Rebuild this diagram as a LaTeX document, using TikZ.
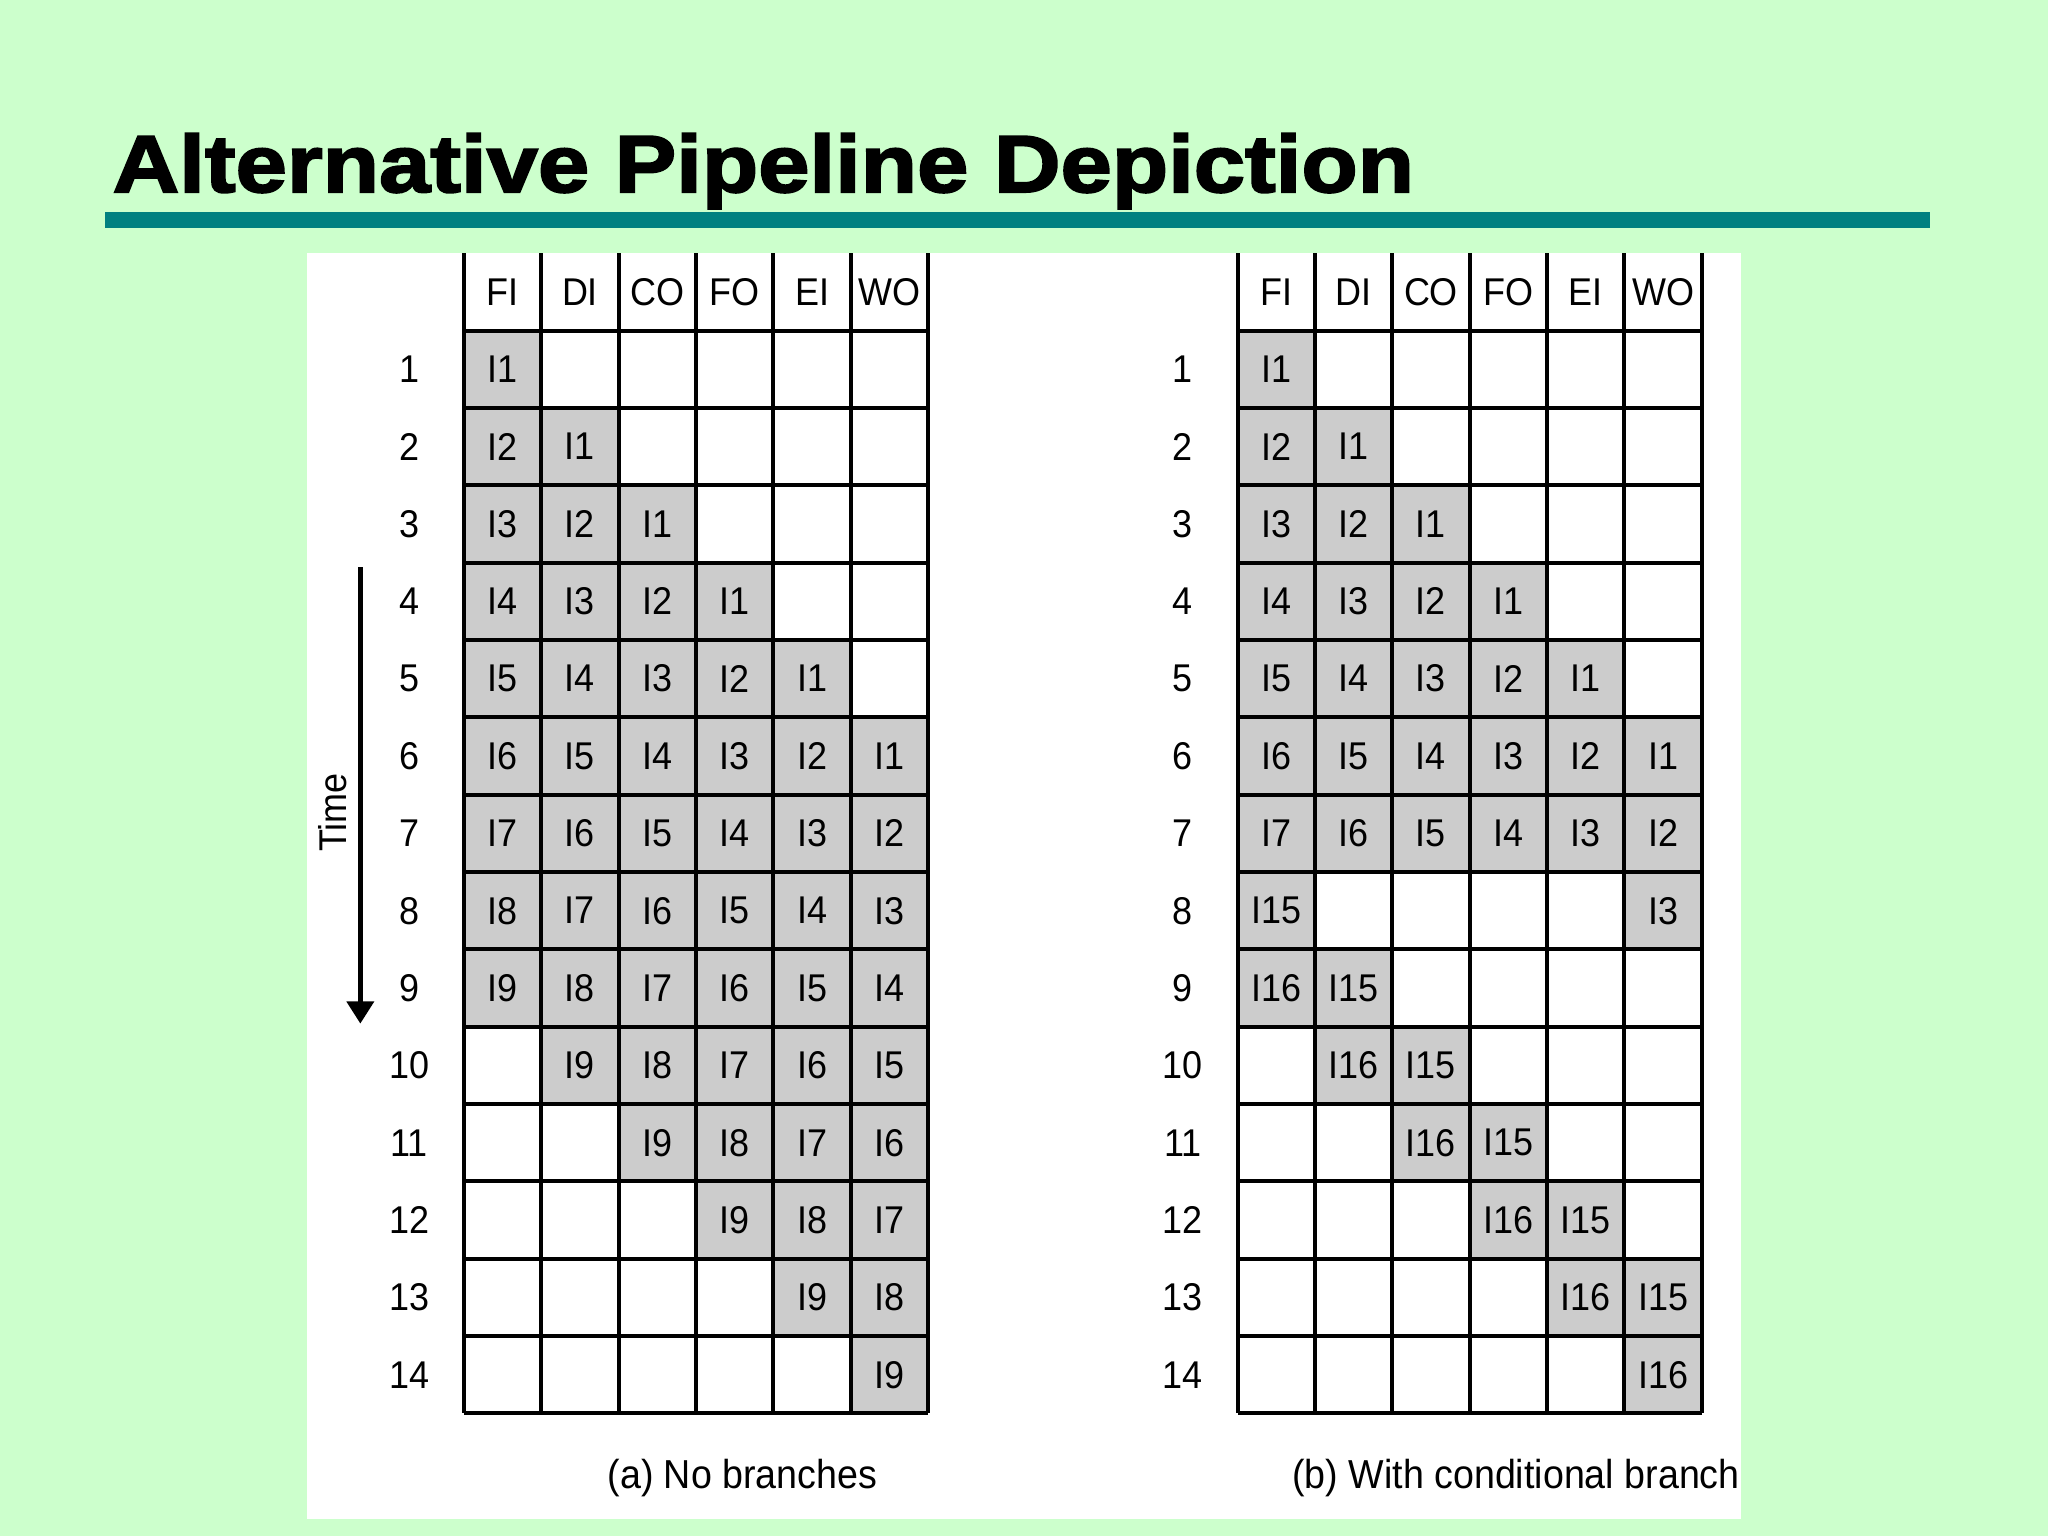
\documentclass[tikz,border=0pt]{standalone}
\usepackage{fontspec}
\setmainfont{Liberation Sans}
\newfontfamily\titlefont[FakeStretch=1.14,BoldFeatures={FakeBold=2.5}]{Liberation Sans}
\newfontfamily\gridfont[FakeStretch=0.93]{Liberation Sans}
\usetikzlibrary{arrows.meta}
\definecolor{slidegreen}{RGB}{204,255,204}
\definecolor{tealbar}{RGB}{0,128,128}
\definecolor{busygray}{RGB}{204,204,204}
\tikzset{
  gridline/.style={line width=1.1pt},
  cell/.style={inner sep=0pt,font=\gridfont\fontsize{11}{13}\selectfont},
  busy/.style={cell,fill=busygray,minimum size=0.773cm},
  caption/.style={inner sep=0pt,font=\gridfont\fontsize{11.5}{13}\selectfont},
}
\begin{document}
\begin{tikzpicture}[x=0.01cm,y=-0.01cm]
\fill[slidegreen] (0,0) rectangle (2048,1536);
\useasboundingbox (0,0) rectangle (2048,1536);
\node[anchor=base west,inner sep=0pt,font=\titlefont\bfseries\fontsize{23}{27}\selectfont] (title) at (112,192) {Alternative Pipeline Depiction};
\fill[tealbar] (105,212) rectangle (1930,228);
\fill[white] (307,253) rectangle (1741,1519);

% (a) no branches
\begin{scope}[shift={(4.637cm,-3.304cm)},x=0.773cm,y=-0.773cm]
\foreach \t in {1,...,14}{
  \node[cell] (na-\t) at (-0.71,\t-0.5) {\t};
  \foreach \s in {1,...,6}{
    \pgfmathtruncatemacro{\i}{\t-\s+1}
    \ifnum\i>0 \ifnum\i<10
      \node[busy] (a-\t-\s) at (\s-0.5,\t-0.5) {I\i};
    \fi\fi
  }
}
\foreach \h [count=\s] in {FI,DI,CO,FO,EI,WO}
  \node[cell] (ha-\s) at (\s-0.5,-0.5) {\h};
\foreach \s in {0,...,6}
  \draw[gridline] (\s,-1) -- (\s,14);
\foreach \t in {0,...,14}
  \draw[gridline] (0,\t) -- (6,\t);
\coordinate (tstart) at (-1.34,3.06);
\coordinate (tend) at (-1.34,8.96);
\draw[line width=1.3pt,-{Triangle[length=6.3pt,width=7.6pt]}] (tstart) -- (tend);
\node[cell,rotate=90] (time) at (-1.70,6.23) {Time};
\node[caption] (capa) at (3.6,14.83) {(a) No branches};
\end{scope}

% (b) with conditional branch
\begin{scope}[shift={(12.369cm,-3.304cm)},x=0.773cm,y=-0.773cm]
\foreach \t in {1,...,14}
  \node[cell] (nb-\t) at (-0.71,\t-0.5) {\t};
\foreach \t in {1,...,7}{
  \foreach \s in {1,...,6}{
    \pgfmathtruncatemacro{\i}{\t-\s+1}
    \ifnum\i>0
      \node[busy] (b-\t-\s) at (\s-0.5,\t-0.5) {I\i};
    \fi
  }
}
% after the branch: I3 completes, I15 and I16 enter
\foreach \t/\s/\i in {8/1/15,8/6/3,9/1/16,9/2/15,10/2/16,10/3/15,11/3/16,11/4/15,
    12/4/16,12/5/15,13/5/16,13/6/15,14/6/16}
  \node[busy] (b-\t-\s) at (\s-0.5,\t-0.5) {I\i};
\foreach \h [count=\s] in {FI,DI,CO,FO,EI,WO}
  \node[cell] (hb-\s) at (\s-0.5,-0.5) {\h};
\foreach \s in {0,...,6}
  \draw[gridline] (\s,-1) -- (\s,14);
\foreach \t in {0,...,14}
  \draw[gridline] (0,\t) -- (6,\t);
\node[caption] (capb) at (3.6,14.83) {(b) With conditional branch};
\end{scope}
\end{tikzpicture}
\end{document}
